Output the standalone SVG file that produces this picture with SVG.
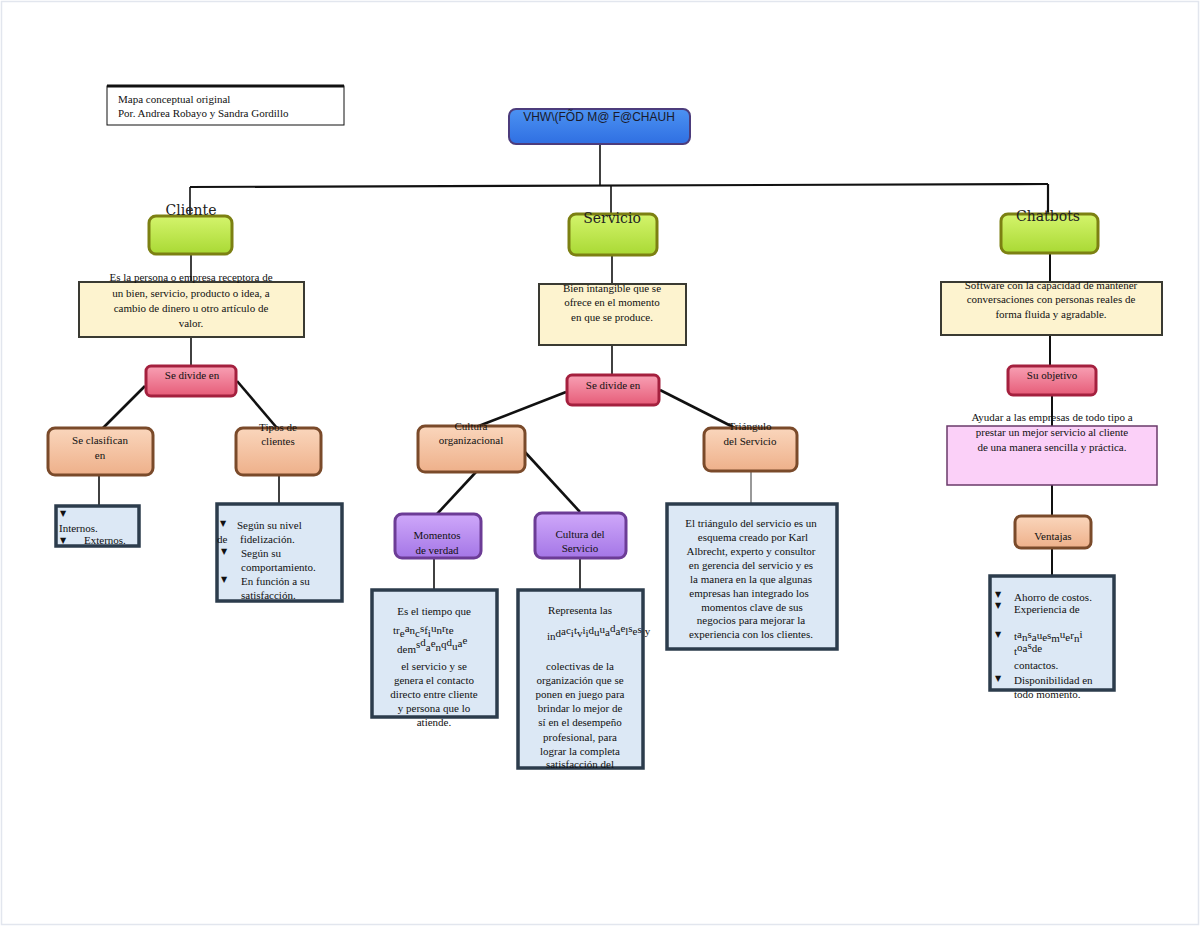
<svg xmlns="http://www.w3.org/2000/svg" width="1200" height="926" viewBox="0 0 1200 926">
<defs>
<linearGradient id="gGreen" x1="0" y1="0" x2="0" y2="1"><stop offset="0" stop-color="#d4f46c"/><stop offset="1" stop-color="#a9d934"/></linearGradient>
<linearGradient id="gPink" x1="0" y1="0" x2="0" y2="1"><stop offset="0" stop-color="#f8a0b4"/><stop offset="1" stop-color="#e65c78"/></linearGradient>
<linearGradient id="gTan" x1="0" y1="0" x2="0" y2="1"><stop offset="0" stop-color="#fad6bc"/><stop offset="1" stop-color="#eeb08a"/></linearGradient>
<linearGradient id="gPurple" x1="0" y1="0" x2="0" y2="1"><stop offset="0" stop-color="#cfa8fa"/><stop offset="1" stop-color="#a476e6"/></linearGradient>
<linearGradient id="gBlue" x1="0" y1="0" x2="0" y2="1"><stop offset="0" stop-color="#4c92f2"/><stop offset="1" stop-color="#2f6fe2"/></linearGradient>
</defs>
<style>
.t{font-family:"Liberation Serif","Times New Roman",serif;font-size:11px;fill:#111;}
.c{text-anchor:middle;}
.big{font-family:"DejaVu Serif","Liberation Serif",serif;font-size:14px;fill:#222;text-anchor:middle;}
.green{fill:url(#gGreen);stroke:#7c8012;stroke-width:3;}
.pink{fill:url(#gPink);stroke:#a4203e;stroke-width:3;}
.tan{fill:url(#gTan);stroke:#7a4a2a;stroke-width:3;}
.purple{fill:url(#gPurple);stroke:#6c3c96;stroke-width:3;}
.desc{fill:#fdf3cf;stroke:#3a3a32;stroke-width:2;}
.blue{fill:#dce8f5;stroke:#2c3c4c;stroke-width:3.5;}
.lilac{fill:#fbd0f8;stroke:#6a3a6a;stroke-width:1.5;}
.ln{stroke:#111;stroke-width:1.6;fill:none;}
.dg{stroke:#111;stroke-width:2.6;fill:none;}
.bul{font-family:"DejaVu Sans",sans-serif;font-size:8px;fill:#111;}
</style>
<rect x="0" y="0" width="1200" height="926" fill="#ffffff"/>
<rect x="1.5" y="1.5" width="1197" height="923" fill="none" stroke="#e2e6ee" stroke-width="1.5"/>

<g id="connectors">
<line class="ln" x1="600" y1="144" x2="600" y2="186"/>
<line x1="190" y1="187" x2="1048" y2="184" stroke="#111" stroke-width="2.2"/>
<line class="ln" x1="190" y1="187" x2="190" y2="215"/>
<line class="ln" x1="611" y1="186" x2="611" y2="214"/>
<line x1="1048" y1="184" x2="1048" y2="213" stroke="#111" stroke-width="2.2"/>
<line class="ln" x1="191" y1="254" x2="191" y2="365"/>
<line class="dg" x1="145" y1="386" x2="103" y2="428"/>
<line class="dg" x1="237" y1="381" x2="277" y2="428"/>
<line class="ln" x1="99" y1="475" x2="99" y2="505"/>
<line class="ln" x1="279" y1="475" x2="279" y2="503"/>
<line class="ln" x1="612" y1="255" x2="612" y2="374"/>
<line class="dg" x1="566" y1="392" x2="476" y2="427"/>
<line class="dg" x1="660" y1="390" x2="735" y2="428"/>
<line class="dg" x1="476" y1="472" x2="437" y2="514"/>
<line class="dg" x1="524" y1="451" x2="580" y2="512"/>
<line class="ln" x1="434" y1="558" x2="434" y2="589"/>
<line class="ln" x1="580" y1="558" x2="580" y2="589"/>
<line x1="751" y1="471" x2="751" y2="503" stroke="#555" stroke-width="1.2"/>
<line x1="1050" y1="253" x2="1050" y2="366" stroke="#111" stroke-width="2"/>
<line x1="1052" y1="395" x2="1052" y2="515" stroke="#111" stroke-width="2"/>
<line x1="1052" y1="548" x2="1052" y2="575" stroke="#111" stroke-width="2"/>
</g>

<g id="note">
<rect x="107" y="86" width="237" height="39" fill="#fff" stroke="#111" stroke-width="1"/>
<line x1="107" y1="86" x2="344" y2="86" stroke="#111" stroke-width="3"/>
<text class="t" x="118" y="103">Mapa conceptual original</text>
<text class="t" x="118" y="117">Por. Andrea Robayo y Sandra Gordillo</text>
</g>

<g id="title">
<rect x="509" y="109" width="181" height="35" rx="7" fill="url(#gBlue)" stroke="#4c3c7c" stroke-width="2"/>
<text x="599" y="121" font-family="Liberation Sans,Arial,sans-serif" font-size="12" fill="#1a1a2a" text-anchor="middle">VHW\(FÕD M@ F@CHAUH</text>
</g>

<g id="cliente">
<rect class="green" x="149" y="216" width="83" height="38" rx="7"/>
<text class="big" x="191" y="215">Cliente</text>
</g>
<g id="cliente-desc">
<rect class="desc" x="79" y="282" width="225" height="55"/>
<text class="t c" x="191" y="281">Es la persona o empresa receptora de</text>
<text class="t c" x="191" y="297">un  bien, servicio, producto  o idea, a</text>
<text class="t c" x="191" y="312">cambio  de dinero u otro artículo de</text>
<text class="t c" x="191" y="327">valor.</text>
</g>
<g id="cliente-divide">
<rect class="pink" x="146" y="366" width="90" height="30" rx="5"/>
<text class="t c" x="192" y="379">Se divide en</text>
</g>
<g id="clasifican">
<rect class="tan" x="48" y="428" width="105" height="47" rx="7"/>
<text class="t c" x="100" y="444">Se clasifican</text>
<text class="t c" x="100" y="459">en</text>
</g>
<g id="tipos">
<rect class="tan" x="236" y="428" width="85" height="47" rx="7"/>
<text class="t c" x="278" y="431">Tipos de</text>
<text class="t c" x="278" y="445">clientes</text>
</g>
<g id="internos">
<rect class="blue" x="56" y="506" width="83" height="40"/>
<text class="bul" x="60" y="516">▼</text>
<text class="t" x="59" y="532">Internos.</text>
<text class="bul" x="60" y="543">▼</text>
<text class="t" x="84" y="544">Externos.</text>
</g>
<g id="tipos-desc">
<rect class="blue" x="217" y="504" width="125" height="97"/>
<text class="bul" x="220" y="526">▼</text>
<text class="t" x="237" y="529">Según su nivel</text>
<text class="t" x="217" y="543">de</text>
<text class="t" x="240" y="543">fidelización.</text>
<text class="bul" x="221" y="554">▼</text>
<text class="t" x="241" y="557">Según su</text>
<text class="t" x="241" y="571">comportamiento.</text>
<text class="bul" x="221" y="582">▼</text>
<text class="t" x="241" y="585">En función a su</text>
<text class="t" x="241" y="599">satisfacción.</text>
</g>

<g id="servicio">
<rect class="green" x="569" y="214" width="88" height="41" rx="7"/>
<text class="big" x="612" y="223">Servicio</text>
</g>
<g id="servicio-desc">
<rect class="desc" x="539" y="284" width="147" height="61"/>
<text class="t c" x="612" y="292">Bien intangible que se</text>
<text class="t c" x="612" y="306">ofrece en el momento</text>
<text class="t c" x="612" y="321">en  que se produce.</text>
</g>
<g id="servicio-divide">
<rect class="pink" x="567" y="375" width="92" height="30" rx="5"/>
<text class="t c" x="613" y="389">Se divide en</text>
</g>
<g id="cultura-org">
<rect class="tan" x="418" y="426" width="107" height="46" rx="7"/>
<text class="t c" x="471" y="430">Cultura</text>
<text class="t c" x="471" y="444">organizacional</text>
</g>
<g id="triangulo">
<rect class="tan" x="704" y="428" width="93" height="43" rx="7"/>
<text class="t c" x="750" y="430">Triángulo</text>
<text class="t c" x="750" y="445">del Servicio</text>
</g>
<g id="momentos">
<rect class="purple" x="395" y="514" width="86" height="44" rx="7"/>
<text class="t c" x="437" y="539">Momentos</text>
<text class="t c" x="437" y="554">de verdad</text>
</g>
<g id="cultura-serv">
<rect class="purple" x="535" y="513" width="91" height="45" rx="7"/>
<text class="t c" x="580" y="538">Cultura del</text>
<text class="t c" x="580" y="552">Servicio</text>
</g>
<g id="momentos-desc">
<rect class="blue" x="372" y="590" width="125" height="127"/>
<text class="t c" x="434" y="615">Es el tiempo que</text>
<text class="t" x="393" y="634" font-size="10">tr<tspan dy="3">e</tspan><tspan dy="-5">a</tspan><tspan dy="2">n</tspan><tspan dy="3">c</tspan><tspan dy="-5">s</tspan><tspan dy="2">f</tspan><tspan dy="3">i</tspan><tspan dy="-5">u</tspan><tspan dy="2">n</tspan><tspan dy="-2">r</tspan><tspan dy="2">te</tspan></text>
<text class="t" x="397" y="653" font-size="10">dem<tspan dy="-5">s</tspan><tspan dy="-2">d</tspan><tspan dy="5">a</tspan><tspan dy="-4">e</tspan><tspan dy="4">n</tspan><tspan dy="-3">q</tspan><tspan dy="-2">d</tspan><tspan dy="4">u</tspan><tspan dy="-3">a</tspan><tspan dy="-3">e</tspan></text>
<text class="t c" x="434" y="670">el servicio y se</text>
<text class="t c" x="434" y="684">genera el contacto</text>
<text class="t c" x="434" y="698">directo entre cliente</text>
<text class="t c" x="434" y="712">y persona que lo</text>
<text class="t c" x="434" y="726">atiende.</text>
</g>
<g id="cultura-desc">
<rect class="blue" x="518" y="590" width="125" height="178"/>
<text class="t c" x="580" y="614">Representa las</text>
<text class="t" x="547" y="640" font-size="10">in<tspan dy="-3">d</tspan><tspan dy="-2">a</tspan><tspan dy="-1">c</tspan><tspan dy="3">i</tspan><tspan dy="-3">t</tspan><tspan dy="3">v</tspan><tspan dy="-3">i</tspan><tspan dy="3">i</tspan><tspan dy="-3">d</tspan><tspan dy="2">u</tspan><tspan dy="-3">u</tspan><tspan dy="3">a</tspan><tspan dy="-4">d</tspan><tspan dy="3">a</tspan><tspan dy="-3">e</tspan><tspan dy="3">l</tspan><tspan dy="-3">s</tspan><tspan dy="3">e</tspan><tspan dy="-2">s</tspan><tspan dx="3" dy="2" font-size="11">y</tspan></text>
<text class="t c" x="580" y="670">colectivas de la</text>
<text class="t c" x="580" y="684">organización que se</text>
<text class="t c" x="580" y="698">ponen en juego para</text>
<text class="t c" x="580" y="712">brindar lo mejor de</text>
<text class="t c" x="580" y="726">sí en el desempeño</text>
<text class="t c" x="580" y="741">profesional, para</text>
<text class="t c" x="580" y="755">lograr la completa</text>
<text class="t c" x="580" y="768">satisfacción del</text>
</g>
<g id="triangulo-desc">
<rect class="blue" x="667" y="504" width="170" height="145"/>
<text class="t c" x="751" y="527">El triángulo del servicio es un</text>
<text class="t c" x="753" y="541">esquema creado por Karl</text>
<text class="t c" x="751" y="555">Albrecht, experto y consultor</text>
<text class="t c" x="751" y="569">en gerencia del servicio y es</text>
<text class="t c" x="751" y="583">la manera en la que algunas</text>
<text class="t c" x="749" y="597">empresas han integrado los</text>
<text class="t c" x="752" y="611">momentos clave de sus</text>
<text class="t c" x="751" y="624">negocios para mejorar la</text>
<text class="t c" x="751" y="638">experiencia con los clientes.</text>
</g>

<g id="chatbots">
<rect class="green" x="1001" y="214" width="97" height="39" rx="7"/>
<text class="big" x="1048" y="221">Chatbots</text>
</g>
<g id="chatbots-desc">
<rect class="desc" x="941" y="282" width="221" height="53"/>
<text class="t c" x="1051" y="289">Software con la capacidad de mantener</text>
<text class="t c" x="1051" y="303">conversaciones con personas reales de</text>
<text class="t c" x="1051" y="318">forma fluida y agradable.</text>
</g>
<g id="objetivo">
<rect class="pink" x="1008" y="366" width="88" height="29" rx="5"/>
<text class="t c" x="1052" y="379">Su objetivo</text>
</g>
<g id="objetivo-desc">
<rect class="lilac" x="947" y="426" width="210" height="59"/>
<text class="t c" x="1052" y="421">Ayudar a las empresas de todo tipo a</text>
<text class="t c" x="1052" y="436">prestar un mejor servicio al cliente</text>
<text class="t c" x="1052" y="451">de  una manera sencilla y práctica.</text>
</g>
<g id="ventajas">
<rect class="tan" x="1015" y="516" width="76" height="32" rx="6"/>
<text class="t c" x="1053" y="540">Ventajas</text>
</g>
<g id="ventajas-desc">
<rect class="blue" x="990" y="576" width="124" height="114"/>
<text class="bul" x="995" y="597">▼</text>
<text class="t" x="1014" y="601">Ahorro de costos.</text>
<text class="bul" x="995" y="608">▼</text>
<text class="t" x="1014" y="613">Experiencia de</text>
<text class="bul" x="995" y="637">▼</text>
<text class="t" x="1014" y="640" font-size="10">t<tspan dy="-2">a</tspan><tspan dy="3">n</tspan><tspan dy="-3">s</tspan><tspan dy="3">a</tspan><tspan dy="-2">u</tspan><tspan dy="2">e</tspan><tspan dy="-2">s</tspan><tspan dy="3">m</tspan><tspan dy="-4">u</tspan><tspan dy="3">e</tspan><tspan dy="-2">r</tspan><tspan dy="3">n</tspan><tspan dy="-4">i</tspan></text>
<text class="t" x="1014" y="655" font-size="10">t<tspan dy="-4">o</tspan><tspan dy="1">a</tspan><tspan dy="-3">s</tspan><tspan dy="3">de</tspan></text>
<text class="t" x="1014" y="669">contactos.</text>
<text class="bul" x="995" y="681">▼</text>
<text class="t" x="1014" y="684">Disponibilidad en</text>
<text class="t" x="1014" y="698">todo momento.</text>
</g>
</svg>
